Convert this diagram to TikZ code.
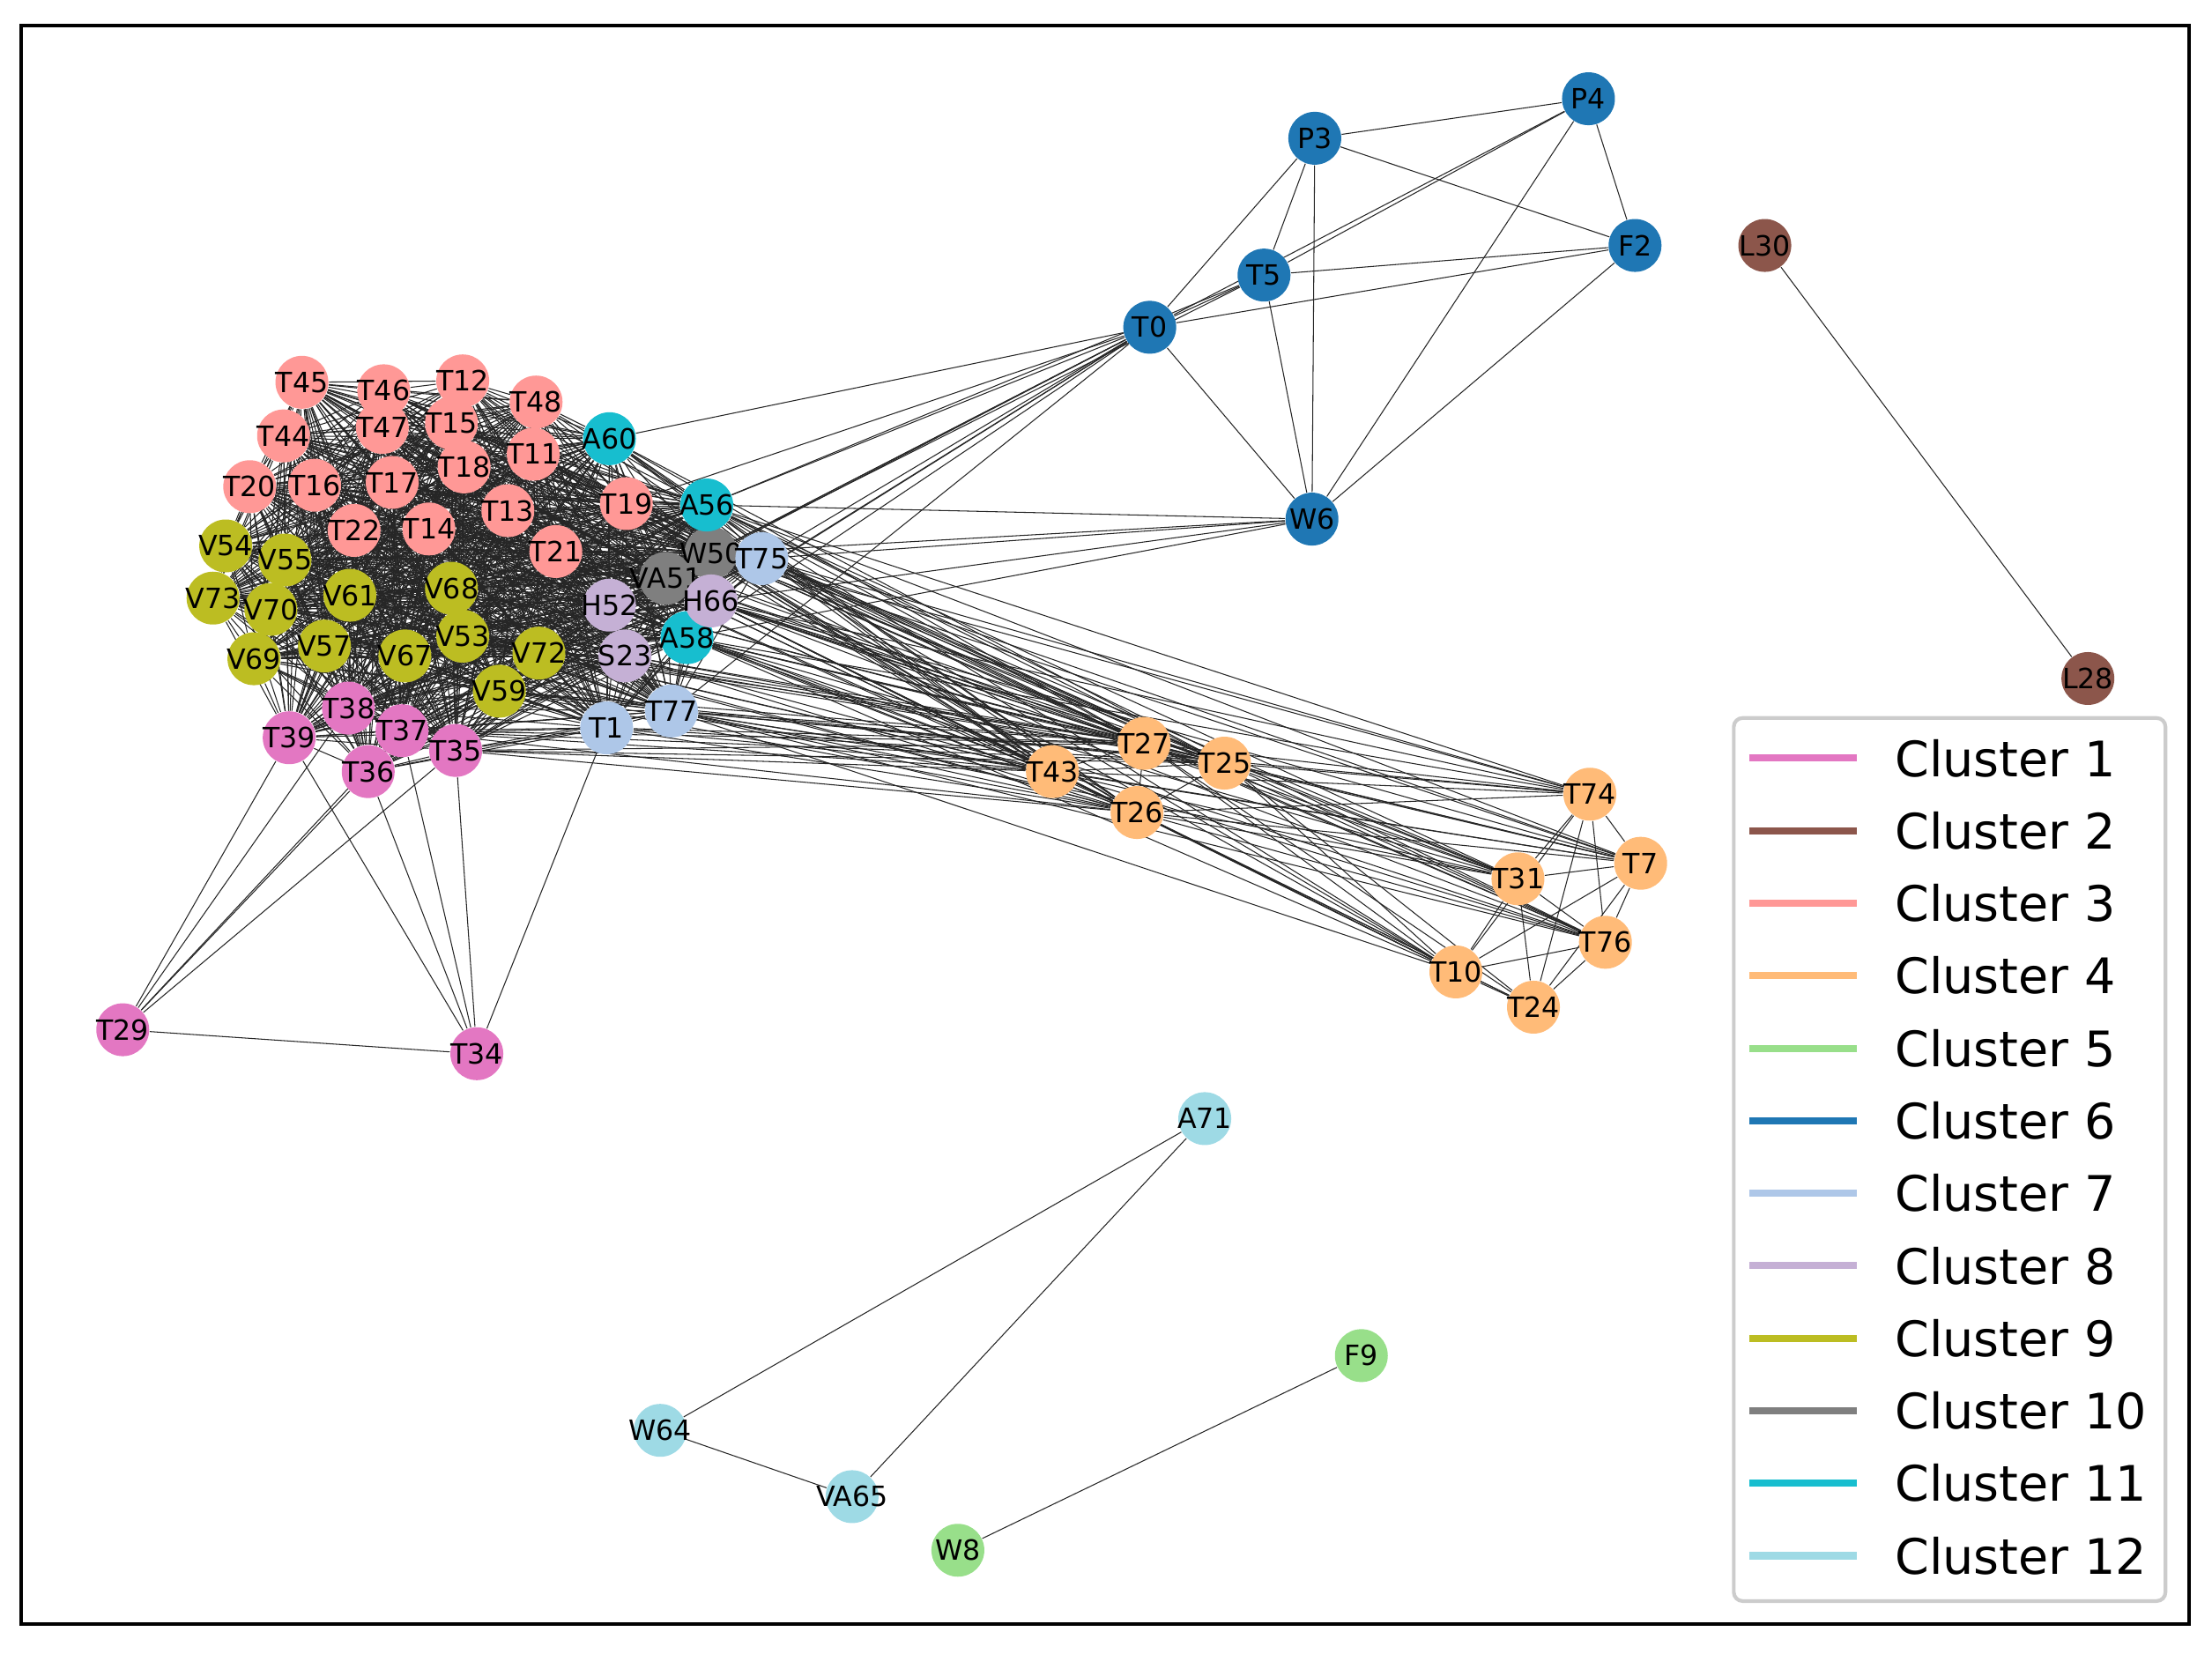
\documentclass[tikz,border=0pt]{standalone}
\usepackage{fontspec}
\setmainfont{DejaVu Sans}
\usetikzlibrary{backgrounds}
\definecolor{cl1}{HTML}{E377C2}
\definecolor{cl2}{HTML}{8C564B}
\definecolor{cl3}{HTML}{FF9896}
\definecolor{cl4}{HTML}{FFBB78}
\definecolor{cl5}{HTML}{98DF8A}
\definecolor{cl6}{HTML}{1F77B4}
\definecolor{cl7}{HTML}{AEC7E8}
\definecolor{cl8}{HTML}{C5B0D5}
\definecolor{cl9}{HTML}{BCBD22}
\definecolor{cl10}{HTML}{7F7F7F}
\definecolor{cl11}{HTML}{17BECF}
\definecolor{cl12}{HTML}{9EDAE5}
\newcommand{\corenodes}{T11,T12,T13,T14,T15,T16,T17,T18,T19,T20,T21,T22,T44,T45,T46,T47,T48,V53,V54,V55,V57,V59,V61,V67,V68,V69,V70,V72,V73,A56,A58,A60,W50,VA51,H52,H66,S23,T75,T77,T1,T35,T36,T37,T38,T39}
\newcommand{\bridgenodes}{T43,T27,T25,T26,T74,T7,T31,T76,T10,T24}
\newcommand{\hubnodes}{T0,T5,P3,P4,F2,W6}
\begin{document}
\begin{tikzpicture}[x=0.016cm, y=-0.016cm,
    main/.style = {circle, minimum size=0.6cm, inner sep=0pt, font=\fontsize{9}{10}\selectfont,
        execute at begin node={\setbox0=\hbox\bgroup},
        execute at end node={\egroup\makebox[0pt]{\box0}}},
    edge/.style = {draw=black!85, line width=0.3pt}]
    \useasboundingbox (0,0) rectangle (1568,1172.5);
    \draw[line width=1.2pt] (15,18) rectangle (1551.5,1151.5);

    \node[main, fill=cl6] (T0) at (815,232) {T0};
    \node[main, fill=cl7] (T1) at (430,516) {T1};
    \node[main, fill=cl6] (F2) at (1159,174) {F2};
    \node[main, fill=cl6] (P3) at (932,98) {P3};
    \node[main, fill=cl6] (P4) at (1126,70) {P4};
    \node[main, fill=cl6] (T5) at (896,195) {T5};
    \node[main, fill=cl6] (W6) at (930,368) {W6};
    \node[main, fill=cl4] (T7) at (1163,612) {T7};
    \node[main, fill=cl5] (W8) at (679,1099) {W8};
    \node[main, fill=cl5] (F9) at (965,961) {F9};
    \node[main, fill=cl4] (T10) at (1032,689) {T10};
    \node[main, fill=cl3] (T11) at (378,322) {T11};
    \node[main, fill=cl3] (T12) at (328,270) {T12};
    \node[main, fill=cl3] (T13) at (360,362) {T13};
    \node[main, fill=cl3] (T14) at (304,375) {T14};
    \node[main, fill=cl3] (T15) at (320,300) {T15};
    \node[main, fill=cl3] (T16) at (223,344) {T16};
    \node[main, fill=cl3] (T17) at (278,342) {T17};
    \node[main, fill=cl3] (T18) at (329,331) {T18};
    \node[main, fill=cl3] (T19) at (444,357) {T19};
    \node[main, fill=cl3] (T20) at (177,345) {T20};
    \node[main, fill=cl3] (T21) at (394,391) {T21};
    \node[main, fill=cl3] (T22) at (251,376) {T22};
    \node[main, fill=cl8] (S23) at (443,465) {S23};
    \node[main, fill=cl4] (T24) at (1087,714) {T24};
    \node[main, fill=cl4] (T25) at (868,541) {T25};
    \node[main, fill=cl4] (T26) at (806,576) {T26};
    \node[main, fill=cl4] (T27) at (811,527) {T27};
    \node[main, fill=cl2] (L28) at (1480,481) {L28};
    \node[main, fill=cl1] (T29) at (87,730) {T29};
    \node[main, fill=cl2] (L30) at (1251,174) {L30};
    \node[main, fill=cl4] (T31) at (1076,623) {T31};
    \node[main, fill=cl1] (T34) at (338,747) {T34};
    \node[main, fill=cl1] (T35) at (323,532) {T35};
    \node[main, fill=cl1] (T36) at (261,547) {T36};
    \node[main, fill=cl1] (T37) at (285,518) {T37};
    \node[main, fill=cl1] (T38) at (247,502) {T38};
    \node[main, fill=cl1] (T39) at (205,523) {T39};
    \node[main, fill=cl4] (T43) at (746,547) {T43};
    \node[main, fill=cl3] (T44) at (201,309) {T44};
    \node[main, fill=cl3] (T45) at (214,271) {T45};
    \node[main, fill=cl3] (T46) at (272,277) {T46};
    \node[main, fill=cl3] (T47) at (271,303) {T47};
    \node[main, fill=cl3] (T48) at (380,285) {T48};
    \node[main, fill=cl10] (W50) at (504,392) {W50};
    \node[main, fill=cl10] (VA51) at (472,410) {VA51};
    \node[main, fill=cl8] (H52) at (432,429) {H52};
    \node[main, fill=cl9] (V53) at (328,451) {V53};
    \node[main, fill=cl9] (V54) at (160,387) {V54};
    \node[main, fill=cl9] (V55) at (202,397) {V55};
    \node[main, fill=cl11] (A56) at (501,358) {A56};
    \node[main, fill=cl9] (V57) at (230,458) {V57};
    \node[main, fill=cl11] (A58) at (487,452) {A58};
    \node[main, fill=cl9] (V59) at (354,490) {V59};
    \node[main, fill=cl11] (A60) at (432,311) {A60};
    \node[main, fill=cl9] (V61) at (248,422) {V61};
    \node[main, fill=cl12] (W64) at (468,1014) {W64};
    \node[main, fill=cl12] (VA65) at (604,1061) {VA65};
    \node[main, fill=cl8] (H66) at (504,426) {H66};
    \node[main, fill=cl9] (V67) at (287,465) {V67};
    \node[main, fill=cl9] (V68) at (320,417) {V68};
    \node[main, fill=cl9] (V69) at (180,467) {V69};
    \node[main, fill=cl9] (V70) at (192,432) {V70};
    \node[main, fill=cl12] (A71) at (854,793) {A71};
    \node[main, fill=cl9] (V72) at (382,463) {V72};
    \node[main, fill=cl9] (V73) at (151,424) {V73};
    \node[main, fill=cl4] (T74) at (1127,563) {T74};
    \node[main, fill=cl7] (T75) at (540,396) {T75};
    \node[main, fill=cl4] (T76) at (1138,668) {T76};
    \node[main, fill=cl7] (T77) at (476,504) {T77};

    \begin{pgfonlayer}{background}
    % dense core
    \foreach \a [count=\i] in \corenodes {
        \foreach \b [count=\j] in \corenodes {
            \ifnum\j>\i \draw[edge] (\a) -- (\b); \fi
        }
    }
    % right hand groups
    \foreach \a [count=\i] in \bridgenodes {
        \foreach \b [count=\j] in \bridgenodes {
            \ifnum\j>\i \draw[edge] (\a) -- (\b); \fi
        }
    }
    \foreach \a [count=\i] in \hubnodes {
        \foreach \b [count=\j] in \hubnodes {
            \ifnum\j>\i \draw[edge] (\a) -- (\b); \fi
        }
    }
    % core to the other groups
    \foreach \a in {T19,T21,T13,T11,A56,A60,W50,VA51,H52,H66,S23,A58,T75,T77,T1,V72,V59,V53,T35,T37}
        \foreach \b in {T43,T27,T25,T26} \draw[edge] (\a) -- (\b);
    \foreach \a in {T75,H66,A58,W50,A56,T77}
        \foreach \b in {T10,T31,T76,T7,T74} \draw[edge] (\a) -- (\b);
    \foreach \a in {A60,A56,T19,W50,VA51,H66,T75,A58,T77,S23,H52}
        \draw[edge] (\a) -- (T0);
    \foreach \a in {A56,T75,W50,H66,A58}
        \draw[edge] (\a) -- (W6);
    \draw[edge] (A56) -- (T5);
    \draw[edge] (W50) -- (T5);

    \draw[edge] (T29) -- (T39);
    \draw[edge] (T29) -- (T38);
    \draw[edge] (T29) -- (T37);
    \draw[edge] (T29) -- (T36);
    \draw[edge] (T29) -- (T35);
    \draw[edge] (T29) -- (T34);

    \draw[edge] (T34) -- (T39);
    \draw[edge] (T34) -- (T36);
    \draw[edge] (T34) -- (T37);
    \draw[edge] (T34) -- (T35);
    \draw[edge] (T34) -- (T1);

    \draw[edge] (L30) -- (L28);
    \draw[edge] (A71) -- (W64);
    \draw[edge] (A71) -- (VA65);
    \draw[edge] (W64) -- (VA65);
    \draw[edge] (F9) -- (W8);
    \end{pgfonlayer}

    % legend
    \draw[draw=black!20, fill=white, fill opacity=0.8, rounded corners=0.1cm, line width=1.2pt] (1229,509) rectangle (1535,1135);
    \foreach \k in {1,...,12} {
        \draw[cl\k, line width=2.3pt] (1240,{537.5+(\k-1)*51.4}) -- ++(76,0);
        \node[anchor=west, inner sep=0pt, font=\fontsize{15.8}{18}\selectfont] (key\k) at (1343,{537.5+(\k-1)*51.4}) {Cluster \k};
    }
\end{tikzpicture}
\end{document}
